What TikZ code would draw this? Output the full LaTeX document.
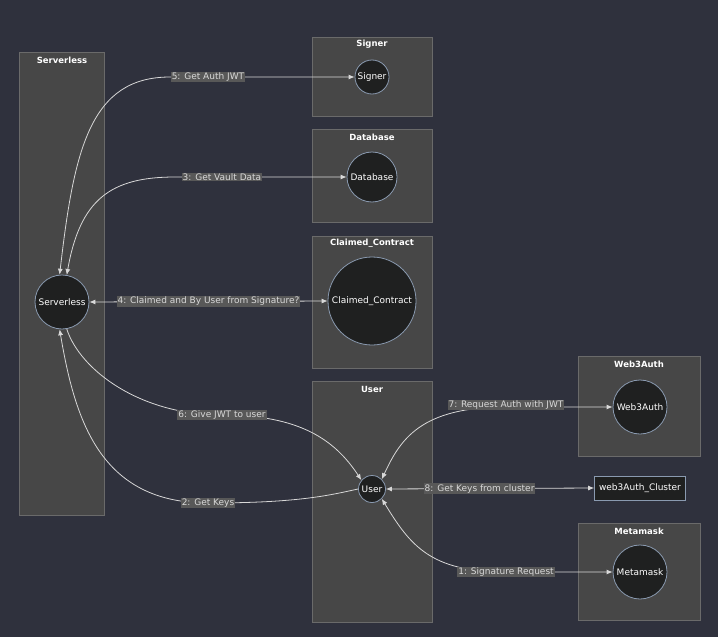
\documentclass[tikz,border=0pt]{standalone}
\usepackage{fontspec}
\setmainfont{DejaVu Sans}
\usetikzlibrary{arrows.meta}
\definecolor{bg}{HTML}{2F313D}
\definecolor{cl}{HTML}{474747}
\definecolor{clb}{HTML}{6A6A6A}
\definecolor{nd}{HTML}{1F2020}
\definecolor{ndb}{HTML}{8A9AB0}
\definecolor{ln}{HTML}{D8D8D8}
\definecolor{lb}{HTML}{585858}
\begin{document}
\begin{tikzpicture}[x=1pt,y=-1pt,font=\fontsize{9}{11}\selectfont,
 clus/.style={draw=clb,fill=cl,line width=0.6pt},
 ctitle/.style={text=white,font=\fontsize{8.5}{10}\selectfont\bfseries},
 nd/.style={circle,draw=ndb,fill=nd,text=white,line width=0.8pt,inner sep=0pt},
 lab/.style={fill=lb,text=ln,inner sep=1pt},
 ed/.style={draw=ln,line width=0.8pt,-{Latex[length=6pt,width=5pt]}},
 bed/.style={draw=ln,line width=0.8pt,{Latex[length=6pt,width=5pt]}-{Latex[length=6pt,width=5pt]}}]
\fill[bg] (0,0) rectangle (718,637);
% clusters
\draw[clus] (19,52) rectangle (104,515); \node[ctitle] at (62,60) {Serverless};
\draw[clus] (312,37) rectangle (432,116); \node[ctitle] at (372,44) {Signer};
\draw[clus] (312,129) rectangle (432,222); \node[ctitle] at (372,137) {Database};
\draw[clus] (312,236) rectangle (432,368); \node[ctitle] at (372,243) {Claimed\_Contract};
\draw[clus] (312,381) rectangle (432,622); \node[ctitle] at (372,389) {User};
\draw[clus] (578,356) rectangle (700,456); \node[ctitle] at (639,364) {Web3Auth};
\draw[clus] (578,523) rectangle (700,620); \node[ctitle] at (639,531) {Metamask};
% nodes
\node[nd,minimum size=54pt] (srv) at (62,302) {Serverless};
\node[nd,minimum size=34pt] (sig) at (372,77) {Signer};
\node[nd,minimum size=50pt] (db) at (372,177) {Database};
\node[nd,minimum size=88pt] (cc) at (372,301) {Claimed\_Contract};
\node[nd,minimum size=27pt] (usr) at (372,489) {User};
\node[nd,minimum size=54pt] (w3a) at (640,407) {Web3Auth};
\node[nd,minimum size=54pt] (mm) at (640,572) {Metamask};
\node[draw=ndb,fill=nd,text=white,line width=0.8pt,minimum width=91pt,minimum height=24pt,inner sep=2pt] (wc) at (640,488) {web3Auth\_Cluster};
% edges
\draw[bed] (srv.95) .. controls (74,150) and (90,77) .. (170,77) -- (sig.west);
\node[lab] at (208,77) {5: Get Auth JWT};
\draw[bed] (srv.80) .. controls (80,200) and (110,177) .. (175,177) -- (db.west);
\node[lab] at (222,177) {3: Get Vault Data};
\draw[bed] (srv.east) -- (cc.west) node[lab,midway] {4: Claimed and By User from Signature?};
\draw[ed] (srv.280) .. controls (80,370) and (140,415) .. (222,415) .. controls (300,415) and (335,440) .. (usr.140);
\node[lab] at (222,415) {6: Give JWT to user};
\draw[ed] (usr.west) .. controls (330,495) and (300,503) .. (208,503) .. controls (100,503) and (75,420) .. (srv.265);
\node[lab] at (208,503) {2: Get Keys};
\draw[bed] (usr.north east) .. controls (400,440) and (420,407) .. (506,407) -- (w3a.west);
\node[lab] at (506,405) {7: Request Auth with JWT};
\draw[bed] (usr.east) -- (wc.west) node[lab,pos=0.45] {8: Get Keys from cluster};
\draw[bed] (usr.south east) .. controls (410,545) and (430,572) .. (506,572) -- (mm.west);
\node[lab] at (506,572) {1: Signature Request};
\end{tikzpicture}
\end{document}
